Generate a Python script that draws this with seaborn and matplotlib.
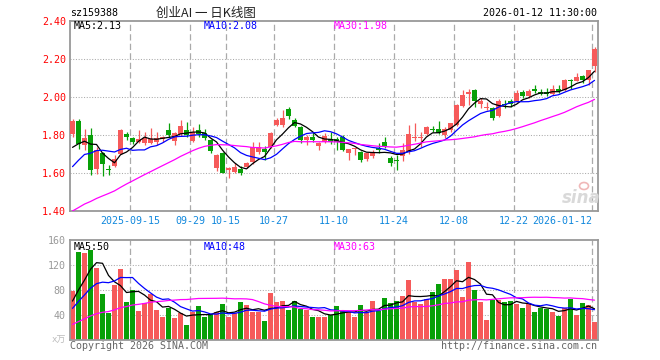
import numpy as np
import pandas as pd
import matplotlib
matplotlib.use("Agg")
import matplotlib.pyplot as plt
import matplotlib.transforms as mtransforms
from matplotlib.patches import Ellipse
import seaborn as sns

sns.set_theme(style="white")
MONO = ['DejaVu Sans Mono', 'Noto Sans CJK SC']
CJK = ['Noto Sans CJK SC', 'DejaVu Sans']
plt.rcParams['font.family'] = MONO

# ---------------- data ----------------
open_ = [1.805, 1.875, 1.746, 1.800, 1.620, 1.707, 1.618, 1.637, 1.700, 1.805,
         1.783, 1.765, 1.756, 1.760, 1.765, 1.777, 1.826, 1.770, 1.805, 1.826,
         1.770, 1.826, 1.809, 1.774, 1.625, 1.704, 1.616, 1.607, 1.623, 1.630,
         1.659, 1.712, 1.725, 1.735, 1.853, 1.853, 1.937, 1.879, 1.844, 1.774,
         1.791, 1.742, 1.765, 1.777, 1.777, 1.791, 1.704, 1.727, 1.712, 1.674,
         1.691, 1.730, 1.765, 1.677, 1.667, 1.689, 1.717, 1.785, 1.786, 1.805,
         1.832, 1.832, 1.800, 1.826, 1.853, 1.951, 2.016, 2.035, 1.963, 1.940,
         1.940, 1.900, 1.965, 1.977, 1.977, 2.028, 2.003, 2.040, 2.025, 2.025,
         2.016, 2.040, 2.037, 2.092, 2.086, 2.110, 2.089, 2.163]
high_ = [1.885, 1.885, 1.830, 1.835, 1.735, 1.710, 1.642, 1.695, 1.830, 1.817,
         1.791, 1.826, 1.817, 1.835, 1.817, 1.795, 1.865, 1.815, 1.879, 1.870,
         1.840, 1.860, 1.830, 1.780, 1.700, 1.710, 1.633, 1.651, 1.635, 1.660,
         1.765, 1.765, 1.740, 1.815, 1.888, 1.932, 1.946, 1.890, 1.850, 1.800,
         1.817, 1.765, 1.810, 1.817, 1.790, 1.800, 1.725, 1.730, 1.715, 1.704,
         1.720, 1.756, 1.791, 1.690, 1.695, 1.756, 1.853, 1.865, 1.817, 1.850,
         1.850, 1.875, 1.840, 1.865, 1.965, 2.035, 2.040, 2.040, 1.993, 1.975,
         1.946, 1.990, 1.984, 1.990, 2.035, 2.035, 2.040, 2.063, 2.040, 2.045,
         2.063, 2.063, 2.095, 2.095, 2.128, 2.115, 2.142, 2.265]
low_ = [1.790, 1.725, 1.720, 1.590, 1.595, 1.585, 1.590, 1.632, 1.700, 1.774,
        1.753, 1.756, 1.750, 1.755, 1.745, 1.765, 1.790, 1.747, 1.795, 1.790,
        1.765, 1.790, 1.775, 1.705, 1.610, 1.598, 1.574, 1.600, 1.590, 1.625,
        1.650, 1.700, 1.668, 1.730, 1.845, 1.840, 1.883, 1.840, 1.760, 1.747,
        1.765, 1.721, 1.760, 1.755, 1.721, 1.715, 1.668, 1.695, 1.660, 1.665,
        1.680, 1.704, 1.730, 1.637, 1.616, 1.663, 1.700, 1.770, 1.738, 1.800,
        1.815, 1.805, 1.783, 1.815, 1.850, 1.945, 1.958, 1.949, 1.940, 1.930,
        1.879, 1.895, 1.940, 1.950, 1.975, 1.995, 1.995, 2.020, 2.011, 2.005,
        2.010, 2.020, 2.030, 2.040, 2.085, 2.075, 2.063, 2.133]
close_ = [1.875, 1.755, 1.786, 1.615, 1.720, 1.647, 1.614, 1.674, 1.826, 1.791,
          1.765, 1.777, 1.786, 1.777, 1.782, 1.791, 1.800, 1.809, 1.849, 1.800,
          1.817, 1.805, 1.783, 1.717, 1.695, 1.602, 1.625, 1.630, 1.598, 1.654,
          1.738, 1.735, 1.710, 1.812, 1.879, 1.888, 1.902, 1.847, 1.774, 1.791,
          1.774, 1.760, 1.795, 1.765, 1.765, 1.721, 1.725, 1.730, 1.668, 1.704,
          1.712, 1.721, 1.738, 1.654, 1.663, 1.721, 1.805, 1.788, 1.791, 1.844,
          1.828, 1.809, 1.830, 1.862, 1.958, 2.011, 2.028, 1.980, 1.980, 1.949,
          1.888, 1.980, 1.957, 1.965, 2.020, 2.003, 2.033, 2.033, 2.018, 2.016,
          2.040, 2.033, 2.089, 2.086, 2.107, 2.089, 2.142, 2.255]
volume = [78.4, 141.0, 139.0, 144.5, 115.7, 73.6, 43.7, 88.0, 113.6, 60.8,
          80.0, 46.4, 58.7, 73.0, 48.0, 37.3, 51.7, 35.7, 42.7, 24.0,
          45.3, 54.4, 37.3, 41.0, 44.3, 57.6, 37.3, 42.7, 60.8, 56.0,
          45.3, 45.3, 30.4, 75.2, 60.8, 62.4, 48.0, 62.4, 49.6, 48.0,
          37.3, 37.3, 37.3, 40.0, 54.4, 48.0, 44.3, 37.3, 56.0, 44.3,
          62.4, 46.4, 67.2, 58.7, 62.4, 70.4, 96.0, 61.3, 57.6, 65.6,
          76.8, 89.6, 97.6, 97.6, 112.5, 68.8, 124.8, 80.0, 60.8, 32.0,
          64.0, 64.0, 60.8, 62.4, 57.6, 51.2, 59.7, 44.8, 51.2, 49.6,
          44.8, 38.9, 50.7, 65.6, 40.0, 59.2, 56.0, 28.8]
# 29 sessions before the first visible day (inferred from where the MA lines start)
prior_close = [1.22, 1.23, 1.21, 1.24, 1.25, 1.23, 1.26, 1.27, 1.26, 1.28,
               1.28, 1.29, 1.31, 1.30, 1.32, 1.33, 1.34, 1.33, 1.35, 1.37,
               1.42, 1.48, 1.55, 1.58, 1.63, 1.66, 1.72, 1.69, 1.73]
prior_volume = [6, 7, 6, 8, 7, 6, 8, 7, 7, 8,
                14, 15, 16, 17, 18, 16, 18, 19, 20, 20,
                30, 35, 38, 42, 50, 52, 60, 58, 63]

tick_labels = ["2025-09-15", "09-29", "10-15", "10-27", "11-10",
               "11-24", "12-08", "12-22", "2026-01-12"]
tick_days = [10, 20, 26, 34, 44, 54, 64, 74, 87]
price_ticks = [1.40, 1.60, 1.80, 2.00, 2.20, 2.40]
vol_ticks = [40, 80, 120, 160]

# ---------------- derived ----------------
n = len(close_)
x = np.arange(n)
o = np.array(open_); c = np.array(close_)
h = np.array(high_); l = np.array(low_)
v = np.array(volume)
npre = len(prior_close)
cs = pd.Series(prior_close + close_)
vs = pd.Series(prior_volume + volume)
ma = {k: cs.rolling(k).mean().to_numpy()[npre:] for k in (5, 10, 30)}
vma = {k: vs.rolling(k).mean().to_numpy()[npre:] for k in (5, 10, 30)}

RED = '#f65a5a'
GREEN = '#08a008'
cols = [RED if cc >= oo else GREEN for oo, cc in zip(o, c)]
ma_cols = {5: 'black', 10: '#0000ff', 30: '#ff00ff'}

W, H = 660, 360
fig = plt.figure(figsize=(6.6, 3.6), dpi=100)
fig.patch.set_facecolor('white')
ax1 = fig.add_axes([70 / W, 1 - 211 / H, 527.5 / W, 190 / H])
ax2 = fig.add_axes([70 / W, 1 - 340 / H, 527.5 / W, 100 / H])

GRID = '#aaaaaa'
for ax, hl in ((ax1, [1.6, 1.8, 2.0, 2.2]), (ax2, [40, 80, 120])):
    ax.set_facecolor('white')
    for yv in hl:
        ax.axhline(yv, color=GRID, lw=0.75, ls=(0, (1, 1.6)), zorder=0)
    for t in tick_days:
        ax.axvline(t - 0.4, color=GRID, lw=0.9, ls=(0, (5.0, 2.6)), zorder=0)
    for s in ax.spines.values():
        s.set_color('#999999')
        s.set_linewidth(1.3)
    ax.set_xlim(-0.42, 87.5)
    ax.set_xticks([])
    ax.tick_params(axis='y', length=0, pad=3)

# candles
ax1.vlines(x, l, h, colors=cols, lw=0.9, zorder=2)
body_h = np.maximum(np.abs(c - o), 0.005)
ax1.bar(x, body_h, bottom=np.minimum(o, c), width=0.75, color=cols,
        linewidth=0, zorder=3)
for k in (5, 10, 30):
    sns.lineplot(x=x, y=ma[k], ax=ax1, color=ma_cols[k], lw=0.9, zorder=4,
                 legend=False)
ax1.set_ylim(1.40, 2.40)
ax1.set_yticks(price_ticks)
ax1.set_yticklabels([f"{p:.2f}" for p in price_ticks], color='#ff0000',
                    fontsize=7.2)
ax1.set_ylabel('')

# volume
ax2.bar(x, v, width=0.83, color=cols, linewidth=0, zorder=2)
for k in (5, 10, 30):
    sns.lineplot(x=x, y=vma[k], ax=ax2, color=ma_cols[k], lw=0.9, zorder=4,
                 legend=False)
ax2.set_ylim(0, 160)
ax2.set_yticks(vol_ticks)
ax2.set_yticklabels([str(t) for t in vol_ticks], color='#999999', fontsize=7.2)
ax2.set_ylabel('')

# x tick labels
tr = mtransforms.blended_transform_factory(ax1.transData, ax1.transAxes)
for t, lab in zip(tick_days, tick_labels):
    ha = 'right' if t == tick_days[-1] else 'center'
    xt = t - 0.4
    ax1.text(xt, -(221 - 211) / 190, lab, transform=tr, ha=ha, va='center',
             color='#1188dd', fontsize=7.2)


def ftxt(px, py, s, **kw):
    fig.text(px / W, 1 - py / H, s, va='center', **kw)


ftxt(70, 13, 'sz159388', ha='left', fontsize=7.2, color='black')
ftxt(206, 13, '创业AI 一 日K线图', ha='center', fontsize=9, color='#222222',
     family=CJK)
ftxt(597, 13, '2026-01-12 11:30:00', ha='right', fontsize=7.2, color='black')

ftxt(74, 26, 'MA5:2.13', ha='left', fontsize=7.2, color='black')
ftxt(204, 26, 'MA10:2.08', ha='left', fontsize=7.2, color='#0000ff')
ftxt(334, 26, 'MA30:1.98', ha='left', fontsize=7.2, color='#ff00ff')
ftxt(74, 247, 'MA5:50', ha='left', fontsize=7.2, color='black')
ftxt(204, 247, 'MA10:48', ha='left', fontsize=7.2, color='#0000ff')
ftxt(334, 247, 'MA30:63', ha='left', fontsize=7.2, color='#ff00ff')

ftxt(66, 340, 'x万', ha='right', fontsize=6.5, color='#bbbbbb', family=MONO)
ftxt(70, 346, 'Copyright 2026 SINA.COM', ha='left', fontsize=7.2, color='#666666')
ftxt(597, 346, 'http://finance.sina.com.cn', ha='right', fontsize=7.2,
     color='#666666')

# sina watermark
ftxt(581, 198, 'sina', ha='center', fontsize=12, color='#d9d9d9',
     style='italic', weight='bold', family=['DejaVu Sans'])
fig.patches.append(Ellipse((584 / W, 1 - 186 / H), 9 / W, 7 / H,
                           transform=fig.transFigure, fill=False,
                           edgecolor='#f0b8b8', lw=1.2))

fig.savefig('out.png', dpi=100, facecolor='white')
